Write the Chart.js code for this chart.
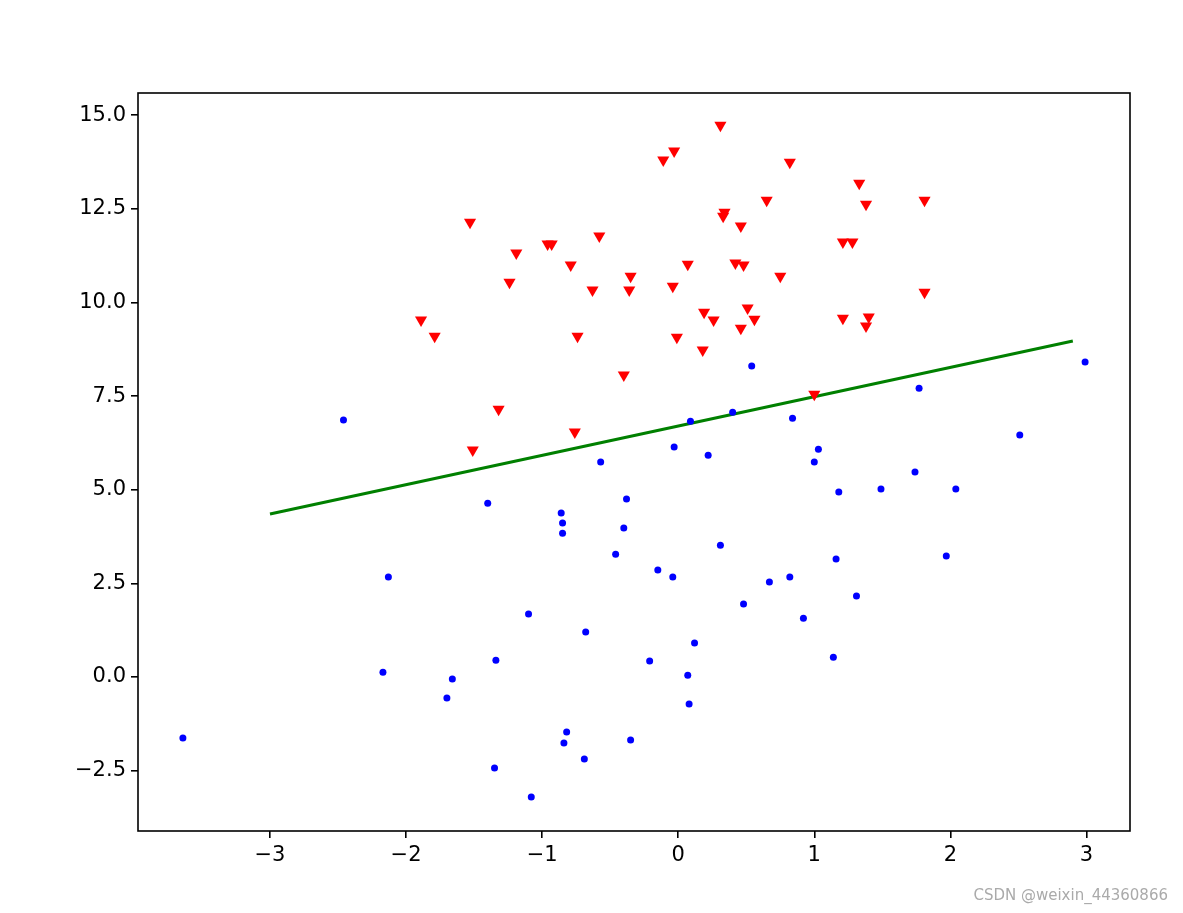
<!DOCTYPE html>
<html>
<head>
<script src="https://cdn.jsdelivr.net/npm/chart.js@4"></script>
<style>body{margin:0;background:#fff}#wrap{width:1183px;height:913px}</style>
</head>
<body>
<div id="wrap"><canvas id="myChart"></canvas></div>
<script>
// class 1 (red triangles)
let redX = [0.31,-0.11,-0.03,0.82,1.33,0.34,0.33,0.46,0.65,1.38,1.81,-1.53,-0.58,-0.96,-0.93,-1.19,1.21,1.28,-0.79,0.07,0.42,0.48,-0.35,0.75,-1.24,-0.63,-0.36,-0.04,1.81,-1.89,-1.79,-0.74,-0.01,0.19,0.26,0.51,0.56,0.46,1.21,1.40,1.38,0.18,-0.40,-1.32,-0.76,-1.51,1.0];
let redY = [14.73,13.80,14.04,13.74,13.18,12.41,12.30,12.04,12.73,12.62,12.73,12.14,11.77,11.56,11.56,11.32,11.61,11.61,11.0,11.02,11.05,11.0,10.70,10.70,10.54,10.33,10.33,10.43,10.27,9.53,9.10,9.10,9.07,9.74,9.53,9.85,9.55,9.31,9.58,9.61,9.37,8.73,8.06,7.15,6.54,6.06,7.55];
// class 0 (blue dots)
let blueX = [-3.64,-2.46,-2.13,-2.17,-1.66,-1.70,-1.40,-1.34,-1.35,-1.10,-1.08,-0.86,-0.85,-0.85,-0.82,-0.84,-0.68,-0.69,-0.57,-0.38,-0.40,-0.46,-0.35,-0.15,-0.21,-0.03,-0.04,0.09,0.07,0.08,0.12,0.22,0.31,0.40,0.54,0.48,0.67,0.82,0.84,0.92,1.0,1.03,1.18,1.16,1.14,1.31,1.49,1.74,1.77,1.97,2.04,2.51,2.99];
let blueY = [-1.63,6.86,2.67,0.13,-0.05,-0.56,4.64,0.45,-2.43,1.68,-3.20,4.38,4.11,3.84,-1.47,-1.76,1.20,-2.19,5.74,4.75,3.98,3.28,-1.68,2.86,0.43,6.14,2.67,6.83,0.05,-0.72,0.91,5.92,3.52,7.07,8.30,1.95,2.54,2.67,6.91,1.57,5.74,6.08,4.94,3.15,0.53,2.16,5.02,5.47,7.71,3.23,5.02,6.46,8.41];
// fitted boundary
let lineX = [-3.0, 2.9];
let lineY = [4.35, 8.97];
let xTicks = [-3,-2,-1,0,1,2,3];
let yTicks = [-2.5,0,2.5,5,7.5,10,12.5,15];

const pts = (xs, ys) => xs.map((x, i) => ({x: x, y: ys[i]}));

Chart.defaults.font.family = "DejaVu Sans";
Chart.defaults.font.size = 21;
Chart.defaults.color = "black";

const boxPlugin = {
    id: "box",
    afterDraw(chart) {
        const a = chart.chartArea, c = chart.ctx;
        c.save();
        c.strokeStyle = "black";
        c.lineWidth = 1.6;
        c.strokeRect(a.left, a.top, a.right - a.left, a.bottom - a.top);
        c.fillStyle = "#aaaaaa";
        c.font = "15px DejaVu Sans";
        c.textAlign = "right";
        c.fillText("CSDN @weixin_44360866", 1168, 900);
        c.restore();
    }
};

let axisOpts = (min, max, ticks, fmt) => ({
    type: "linear", min: min, max: max,
    afterBuildTicks: s => { s.ticks = ticks.map(v => ({value: v})); },
    grid: {drawOnChartArea: false, drawTicks: true, tickLength: 7, color: "black", lineWidth: 1.6},
    border: {display: false},
    ticks: {padding: 5, callback: fmt, autoSkip: false}
});

let xAxis = axisOpts(-3.97, 3.32, xTicks, v => v < 0 ? "\u2212" + Math.abs(v) : String(v));
xAxis.afterFit = s => { s.height = 82; };
xAxis.ticks.maxRotation = 0;
let yAxis = axisOpts(-4.11, 15.59, yTicks, v => (v < 0 ? "\u2212" : "") + Math.abs(v).toFixed(1));
yAxis.afterFit = s => { s.width = 138; };

new Chart(document.getElementById("myChart"), {
    type: "scatter",
    data: {
        datasets: [{
            data: pts(redX, redY),
            pointStyle: "triangle", rotation: 180,
            pointRadius: 7, backgroundColor: "red", borderColor: "red", borderWidth: 0
        }, {
            data: pts(blueX, blueY),
            pointRadius: 3.5, backgroundColor: "blue", borderColor: "blue", borderWidth: 0
        }, {
            type: "line",
            data: pts(lineX, lineY),
            borderColor: "green", borderWidth: 3, pointRadius: 0, fill: false
        }]
    },
    options: {
        responsive: true, maintainAspectRatio: false, animation: false,
        layout: {padding: {top: 93, right: 53, left: 0, bottom: 0}},
        plugins: {legend: {display: false}, tooltip: {enabled: false}},
        scales: {x: xAxis, y: yAxis}
    },
    plugins: [boxPlugin]
});
</script>
</body>
</html>
